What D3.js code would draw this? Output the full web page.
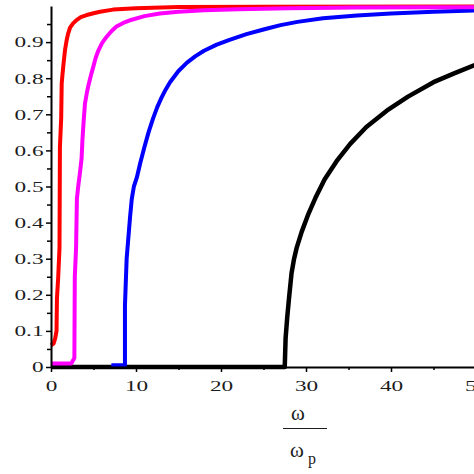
<!DOCTYPE html>
<html>
<head>
<meta charset="utf-8">
<script src="https://cdn.jsdelivr.net/npm/d3@7"></script>
<style>
  body { margin: 0; background: #fff; }
  svg { display: block; }
</style>
</head>
<body>
<div id="chart"></div>
<script>
// tick values
const xTicks = [0, 10, 20, 30, 40, 50];
const xMinor = [5, 15, 25, 35, 45];
const yTicks = [0, 0.1, 0.2, 0.3, 0.4, 0.5, 0.6, 0.7, 0.8, 0.9];
const yMinor = [0.05, 0.15, 0.25, 0.35, 0.45, 0.55, 0.65, 0.75, 0.85, 0.95];

// curves, [omega/omega_p, value]
const blackPts = [[0, 0], [27.5, 0], [27.6, 0.08], [27.8, 0.14], [28, 0.19], [28.3, 0.26], [28.6, 0.3],
  [28.9, 0.33], [29.5, 0.375], [30.3, 0.425], [31.1, 0.468], [32.2, 0.52], [33.6, 0.57], [35.2, 0.618],
  [37.1, 0.665], [39.5, 0.71], [42, 0.749], [45, 0.789], [47.5, 0.814], [49.7, 0.835], [52, 0.85]];
const bluePts = [[7.1, 0.005], [8.7, 0.005], [8.7, 0.17], [8.9, 0.3], [9.3, 0.415], [9.5, 0.465],
  [9.75, 0.5], [10.1, 0.525], [10.5, 0.565], [11, 0.61], [11.5, 0.652], [12, 0.688], [12.5, 0.72],
  [13, 0.746], [13.5, 0.769], [14, 0.789], [15, 0.82], [16, 0.843], [17, 0.861], [18, 0.876],
  [19.5, 0.893], [21, 0.906], [23, 0.922], [25, 0.935], [27, 0.947], [29, 0.956], [32, 0.966],
  [36, 0.974], [40, 0.979], [45, 0.984], [50, 0.988], [52, 0.989]];
const redPts = [[0, 0.06], [0.3, 0.065], [0.5, 0.08], [0.65, 0.1], [0.7, 0.19], [0.85, 0.25], [1.0, 0.33],
  [1.05, 0.61], [1.2, 0.69], [1.26, 0.786], [1.35, 0.81], [1.44, 0.832], [1.55, 0.857], [1.65, 0.878],
  [1.84, 0.905], [2.0, 0.922], [2.24, 0.94], [2.6, 0.952], [3.0, 0.961], [3.5, 0.969], [4.2, 0.975],
  [5.0, 0.98], [5.76, 0.984], [7.3, 0.99], [10, 0.994], [15, 0.997], [25, 0.998], [52, 0.999]];
const magentaPts = [[0, 0.01], [2.4, 0.01], [2.75, 0.025], [2.8, 0.25], [2.95, 0.33], [3.0, 0.4],
  [3.05, 0.467], [3.2, 0.5], [3.4, 0.537], [3.6, 0.578], [3.7, 0.629], [3.85, 0.684], [4.0, 0.73],
  [4.2, 0.757], [4.4, 0.78], [4.7, 0.808], [4.98, 0.832], [5.25, 0.856], [5.56, 0.876], [6.0, 0.897],
  [6.55, 0.915], [7.1, 0.93], [7.7, 0.943], [8.5, 0.953], [9.5, 0.962], [11, 0.972], [12.8, 0.979],
  [15, 0.984], [18, 0.988], [22, 0.991], [28, 0.994], [36, 0.996], [52, 0.997]];

const width = 474, height = 474;
const serif = "Liberation Serif";
const stretch = 1.55; // labels in the picture are wider than they are tall

let svg = d3.select("#chart")
    .append("svg")
    .attr("width", width)
    .attr("height", height);

let x = d3.scaleLinear().domain([0, 50]).range([51, 476]);
let y = d3.scaleLinear().domain([0, 1]).range([367, 6]);

// minor ticks first, under the axes
svg.append("g")
    .attr("transform", "translate(0,367)")
    .call(d3.axisBottom(x).tickValues(xMinor).tickSize(3).tickFormat(""))
    .call(g => g.select(".domain").remove())
    .selectAll("line").attr("stroke", "#000").attr("stroke-width", 1.5);

svg.append("g")
    .attr("transform", "translate(51,0)")
    .call(d3.axisLeft(y).tickValues(yMinor).tickSize(4).tickFormat(""))
    .call(g => g.select(".domain").remove())
    .selectAll("line").attr("stroke", "#000").attr("stroke-width", 1.5);

let line = d3.line()
    .x(function(d) { return x(d[0]); })
    .y(function(d) { return y(d[1]); });

let curves = [
  {pts: blackPts, color: "#000000", w: 4.5},
  {pts: bluePts, color: "#0000ff", w: 4},
  {pts: redPts, color: "#ff0000", w: 4},
  {pts: magentaPts, color: "#ff00ff", w: 4}
];

svg.append("g")
    .selectAll("path")
    .data(curves)
    .enter()
    .append("path")
    .attr("fill", "none")
    .attr("stroke", function(d) { return d.color; })
    .attr("stroke-width", function(d) { return d.w; })
    .attr("stroke-linejoin", "round")
    .attr("d", function(d) { return line(d.pts); });

// main axes
let xAxis = svg.append("g")
    .attr("transform", "translate(0,367)")
    .call(d3.axisBottom(x).tickValues(xTicks).tickSize(5).tickSizeOuter(0).tickPadding(8)
      .tickFormat(d3.format("d")));
xAxis.select(".domain").attr("stroke", "#000").attr("stroke-width", 2);
xAxis.selectAll("line").attr("stroke", "#000").attr("stroke-width", 1.5);

let yAxis = svg.append("g")
    .attr("transform", "translate(51,0)")
    .call(d3.axisLeft(y).tickValues(yTicks).tickSize(5).tickSizeOuter(0)
      .tickFormat(function(d) { return d === 0 ? "0" : d3.format(".1f")(d); }));
yAxis.select(".domain").attr("stroke", "#000").attr("stroke-width", 2);
yAxis.selectAll("line").attr("stroke", "#000").attr("stroke-width", 1.5);

[xAxis, yAxis].forEach(function(a) {
  a.attr("font-family", serif).attr("font-size", 15);
  a.selectAll("text")
    .attr("fill", "#1c1c1c")
    .attr("transform", "scale(" + stretch + ",1)");
});
yAxis.selectAll("text").attr("x", -7.5 / stretch);

// fraction label omega / omega_p
let lbl = svg.append("g")
    .attr("font-family", serif)
    .attr("fill", "#1c1c1c");
lbl.append("text")
    .attr("x", 291).attr("y", 420)
    .attr("font-size", 21)
    .text("ω");
lbl.append("line")
    .attr("x1", 283).attr("x2", 327)
    .attr("y1", 428.5).attr("y2", 428.5)
    .attr("stroke", "#1c1c1c").attr("stroke-width", 1);
lbl.append("text")
    .attr("x", 290).attr("y", 457)
    .attr("font-size", 21)
    .text("ω");
lbl.append("text")
    .attr("x", 308).attr("y", 464)
    .attr("font-size", 16)
    .text("p");
</script>
</body>
</html>
